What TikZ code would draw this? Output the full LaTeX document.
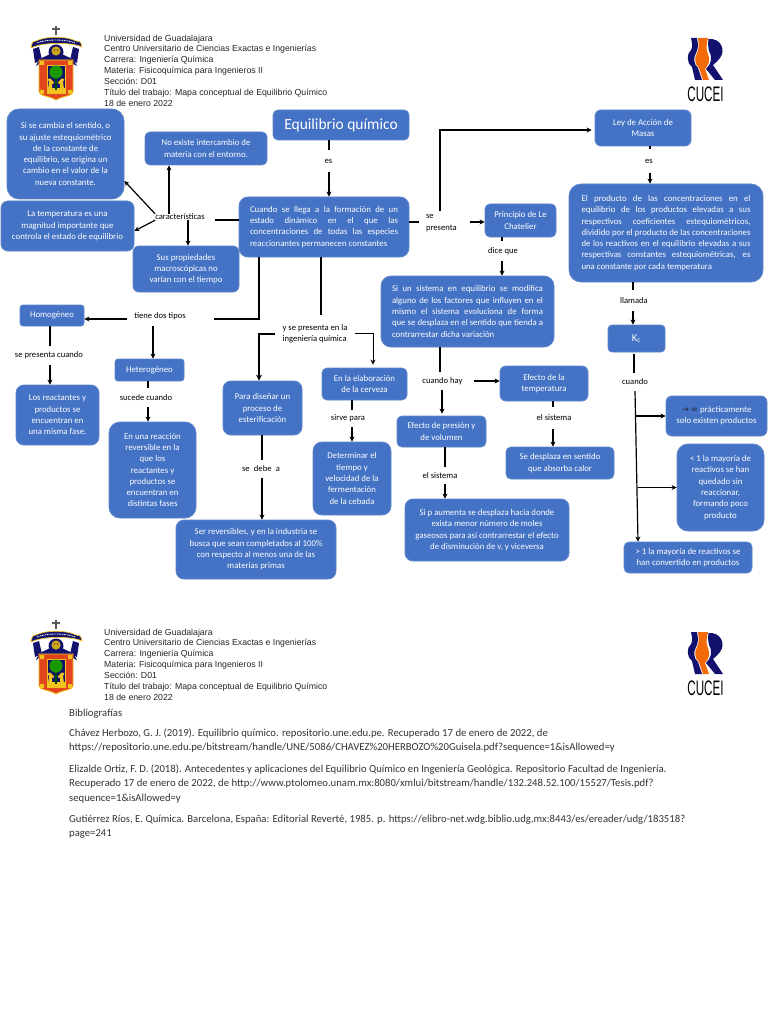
\documentclass[tikz,border=0pt]{standalone}
\usepackage{fontspec}
\usepackage{graphicx}
\setmainfont{Carlito}
\newfontfamily\arialf{Liberation Sans}
\newfontfamily\dejavuf{DejaVu Sans}
\usetikzlibrary{arrows.meta,calc}
\definecolor{boxblue}{HTML}{4472C4}
\definecolor{boxedge}{HTML}{5F86CC}
\definecolor{navyc}{HTML}{12126E}
\definecolor{orangec}{HTML}{F26A0A}
\definecolor{shieldred}{HTML}{E2451E}
\definecolor{goldc}{HTML}{F2C21E}
\tikzset{
 bluebox/.style={draw=boxedge,line width=.8pt,fill=boxblue,text=white,align=center,inner sep=0pt,
   font=\fontsize{8.8}{11.3}\selectfont},
 lab/.style={inner sep=0pt,align=center,text=black,font=\fontsize{8.6}{11.3}\selectfont},
 ln/.style={line width=1.2pt,black},
 arr/.style={line width=1.2pt,black,-{Stealth[length=5pt,width=5pt]}},
 headtxt/.style={anchor=north west,inner sep=0pt,align=left,text=black!85,
   font=\arialf\fontsize{8.75}{10.85}\selectfont},
 bibtxt/.style={anchor=north west,inner sep=0pt,align=left,text=black!80,
   font=\fontsize{10.7}{14.4}\selectfont},
}
\newcommand\bbox[6][6]{\node[bluebox,rounded corners=#1pt,minimum width={(#5-#3)*1pt},minimum height={(#6-#4)*1pt}] (#2) at ({(#3+#5)/2},{(#4+#6)/2})}
\newcommand\js[2]{\makebox[#1pt][s]{#2}}
\newcommand\jl[2]{\makebox[#1pt][l]{#2}}
\newcommand\vchain[4]{%
 \coordinate (tmpc) at (#4,0);
 \draw[ln] (#1.south -| tmpc) -- (#2.north -| tmpc);
 \draw[arr] (#2.south -| tmpc) -- (#3.north -| tmpc);}
\newcommand\ugcrest[1]{%
 \begin{scope}[shift={(0,#1)}]
  % cross
  \fill[black!65] (55,26) rectangle (57,35);
  \fill[black!65] (52,28) rectangle (60,29.6);
  % mantling
  \fill[navyc] (36,66) .. controls (40,56) and (44,58) .. (50,54) -- (62,54) .. controls (68,58) and (72,56) .. (77,66)
     -- (73,64) -- (39,64) -- cycle;
  \fill[navyc] (35,63) -- (33,49) -- (39,47) -- (42,60) -- cycle;
  \fill[navyc] (77,63) -- (79,49) -- (73,47) -- (70,60) -- cycle;
  % banner
  \draw[goldc,line width=.7pt,fill=navyc] (31,48) .. controls (32,41) and (34,41) .. (36,41)
     .. controls (46,36) and (66,36) .. (76,41) .. controls (79,41) and (81,41) .. (82,47)
     .. controls (72,42) and (42,42) .. (31,48) -- cycle;
  \draw[white,line width=.8pt,dash pattern=on 1pt off .7pt] (37,43) .. controls (46,39) and (66,39) .. (75,43);
  % head
  \fill[navyc] (56,52) circle (7.5);
  \fill[goldc!85!black] (56,51) circle (4.6);
  \fill[navyc] (54.5,50) circle (.7) (57.5,50) circle (.7);
  % shield
  \draw[goldc,line width=.8pt,fill=shieldred] (39,60) -- (73,60) -- (73,92) .. controls (73,96) and (62,96) .. (56,100)
     .. controls (50,96) and (39,96) .. (39,92) -- cycle;
  \fill[goldc] (40,61) rectangle (44,65) (68,61) rectangle (72,65) (40,90) rectangle (44,94) (68,90) rectangle (72,94);
  \draw[goldc,line width=.5pt,fill=navyc] (47,65) rectangle (65,93);
  % tree
  \fill[goldc] (47.5,88) rectangle (64.5,92.6);
  \fill[black!70!green] (55.2,74) rectangle (56.8,90);
  \fill[green!55!black!90!yellow] (56,72) circle (6.6);
  % lions
  \fill[goldc] (48,89) -- (49,82) -- (47.5,79) -- (50.5,78.5) -- (54.5,83) -- (52,84) -- (52,89) -- cycle;
  \fill[goldc] (64,89) -- (63,82) -- (64.5,79) -- (61.5,78.5) -- (57.5,83) -- (60,84) -- (60,89) -- cycle;
 \end{scope}}
\newcommand\cuceilogo[2]{%
 \begin{scope}[shift={(0,#1)}]
  \fill[orangec] (698,38) -- (708,38) .. controls (706,46) and (706,50) .. (708,54) .. controls (711,60) and (708,66) .. (705,69)
     -- (709,80) -- (703,80) -- (699,68) .. controls (695,65) and (694,58) .. (697,53) .. controls (699,50) and (699,44) .. (698,38) -- cycle;
  \fill[navyc] (691,38) -- (697,38) .. controls (698.5,45) and (698,50) .. (696,53) .. controls (693,58) and (694,65) .. (698,68)
     -- (702,80) -- (695,80) -- (692,67) .. controls (687,64) and (686,54) .. (691,50) .. controls (693,47) and (692,43) .. (691,38) -- cycle;
  \fill[navyc] (708.5,39) .. controls (721,38) and (726,50) .. (720,58) .. controls (718,61) and (715,63) .. (713,65)
     -- (723,80) -- (715,80) -- (706,69) .. controls (711,64) and (713,58) .. (709,51) .. controls (708,47) and (708,43) .. (708.5,39) -- cycle;
  \node[inner sep=0pt,text=black] (#2) at (705.5,94.5) {\scalebox{.83}[1.5]{\arialf\fontsize{14}{14}\selectfont CUCEI}};
 \end{scope}}
\newcommand\headlines{Universidad de Guadalajara\\Centro Universitario de Ciencias Exactas e Ingenierías\\Carrera: Ingeniería Química\\Materia: Fisicoquímica para Ingenieros II\\Sección: D01\\Título del trabajo: Mapa conceptual de Equilibrio Químico\\18 de enero 2022}
\begin{document}
\begin{tikzpicture}[x=1pt,y=-1pt]
\useasboundingbox (0,0) rectangle (768,1024);
\fill[white] (0,0) rectangle (768,1024);
% headers
\ugcrest{0}
\ugcrest{594}
\cuceilogo{0}{cuceiA}
\cuceilogo{594}{cuceiB}
\node[headtxt] (headA) at (104,34.5) {\headlines};
\node[headtxt] (headB) at (104,628.5) {\headlines};
% boxes
\bbox[12]{A}{7}{109}{124}{199}{Si se cambia el sentido, o\\su ajuste estequiométrico\\de la constante de\\equilibrio, se origina un\\cambio en el valor de la\\nueva constante.};
\bbox[7]{B}{1}{201}{134}{251}{La temperatura es una\\magnitud importante que\\controla el estado de equilibrio};
\bbox[5]{C}{145}{132}{267}{165}{No existe intercambio de\\materia con el entorno.};
\bbox[6]{D}{133}{246}{239}{292}{Sus propiedades\\macroscópicas no\\varían con el tiempo};
\node[bluebox,rounded corners=5pt,minimum width=136pt,minimum height=30pt,font=\fontsize{15.5}{17}\selectfont] (E) at (341,125) {Equilibrio químico};
\bbox[9]{F}{239}{197}{409}{257}{\js{148}{Cuando se llega a la formación de un}\\\js{148}{estado dinámico en el que las}\\\js{148}{concentraciones de todas las especies}\\\jl{148}{reaccionantes permanecen constantes}};
\bbox[6]{Ley}{595}{110}{691}{146}{Ley de Acción de\\Masas};
\bbox[12]{Prod}{569}{184}{763}{282}{\js{169}{El producto de las concentraciones en el}\\\js{169}{equilibrio de los productos elevadas a sus}\\\js{169}{respectivos coeficientes estequiométricos,}\\\js{169}{dividido por el producto de las concentraciones}\\\js{169}{de los reactivos en el equilibrio elevadas a sus}\\\js{169}{respectivas constantes estequiométricas, es}\\\jl{169}{una constante por cada temperatura}};
\bbox[5]{Ch}{485}{204}{556}{237}{Principio de Le\\Chatelier};
\bbox[10]{Sys}{381}{276}{554}{347}{\js{151}{Si un sistema en equilibrio se modifica}\\\js{151}{alguno de los factores que influyen en el}\\\js{151}{mismo el sistema evoluciona de forma}\\\js{151}{que se desplaza en el sentido que tienda a}\\\jl{151}{contrarrestar dicha variación}};
\bbox[3]{Hom}{20}{305}{84}{326}{Homogéneo};
\bbox[3]{Het}{115}{359}{184}{381}{Heterogéneo};
\bbox[8]{Los}{16}{385}{99}{445}{Los reactantes y\\productos se\\encuentran en\\una misma fase.};
\bbox[11]{Reac}{109}{422}{196}{518}{En una reacción\\reversible en la\\que los\\reactantes y\\productos se\\encuentran en\\distintas fases};
\bbox[8]{Para}{223}{381}{302}{435}{Para diseñar un\\proceso de\\esterificación};
\bbox[5]{Ela}{322}{368}{407}{400}{En la elaboración\\de la cerveza};
\bbox[9]{Det}{313}{442}{391}{515}{Determinar el\\tiempo y\\velocidad de la\\fermentación\\de la cebada};
\bbox[8]{Ser}{176}{520}{336}{579}{Ser reversibles, y en la industria se\\busca que sean completados al 100\%\\con respecto al menos una de las\\materias primas};
\bbox[5]{Pres}{397}{416}{486}{447}{Efecto de presión y\\de volumen};
\bbox[6]{Temp}{500}{366}{588}{401}{Efecto de la\\temperatura};
\bbox[5]{Desp}{506}{447}{614}{479}{Se desplaza en sentido\\que absorba calor};
\bbox[8]{SiP}{405}{499}{569}{561}{Si p aumenta se desplaza hacia donde\\exista menor número de moles\\gaseosos para así contrarrestar el efecto\\de disminución de v, y viceversa};
\bbox[4]{Kc}{608}{325}{665}{352}{\fontsize{10.5}{11}\selectfont K\textsubscript{c}};
\bbox[6]{Inf}{666}{396}{767}{436}{{\dejavuf\fontsize{9}{9}\selectfont\textcolor{black!85}{→\,∞}} prácticamente\\solo existen productos};
\bbox[11]{Lt}{677}{444}{764}{531}{< 1 la mayoría de\\reactivos se han\\quedado sin\\reaccionar,\\formando poco\\producto};
\bbox[5]{Gt}{624}{542}{752}{573}{> 1 la mayoría de reactivos se\\han convertido en productos};
% labels
\node[lab,minimum height=22pt] (es1) at (328.5,161) {es};
\node[lab] (car) at (180,217) {características};
\node[lab,minimum width=66pt,minimum height=20pt] (tie) at (160,316) {tiene dos tipos};
\node[lab,minimum height=19pt] (spc) at (49,355.5) {se presenta cuando};
\node[lab,minimum height=19pt] (suc) at (146,397.5) {sucede cuando};
\node[lab,minimum width=80pt,minimum height=37pt,align=left] (yse) at (315,333.5) {y se presenta en la\\ingeniería química};
\node[lab,minimum height=18pt] (deb) at (261,469) {se\enspace debe\enspace a};
\node[lab,minimum height=17pt] (sir) at (348,418.5) {sirve para};
\node[lab,align=left,text width=32pt] (sep) at (442,223) {se\\presenta};
\node[lab,minimum height=20pt] (dic) at (503,251) {dice que};
\node[lab,minimum height=18pt] (hay) at (442.5,381) {cuando hay};
\node[lab,minimum height=22pt] (sis1) at (554,418) {el sistema};
\node[lab,minimum height=17pt] (sis2) at (440,475.5) {el sistema};
\node[lab,minimum height=23pt] (es2) at (649,161) {es};
\node[lab,minimum height=21pt] (lla) at (634,300.5) {llamada};
\node[lab,minimum height=18pt] (cua) at (635,382) {cuando};
% bibliography
\node[bibtxt] (bib0) at (69,708.5) {Bibliografías};
\node[bibtxt] (bib1) at (69,728.5) {Chávez Herbozo, G. J. (2019). Equilibrio químico. repositorio.une.edu.pe. Recuperado 17 de enero de 2022, de\\https://repositorio.une.edu.pe/bitstream/handle/UNE/5086/CHAVEZ\%20HERBOZO\%20Guisela.pdf?sequence=1\&isAllowed=y};
\node[bibtxt] (bib2) at (69,764.5) {Elizalde Ortiz, F. D. (2018). Antecedentes y aplicaciones del Equilibrio Químico en Ingeniería Geológica. Repositorio Facultad de Ingeniería.\\Recuperado 17 de enero de 2022, de http://www.ptolomeo.unam.mx:8080/xmlui/bitstream/handle/132.248.52.100/15527/Tesis.pdf?\\sequence=1\&isAllowed=y};
\node[bibtxt] (bib3) at (69,814.5) {Gutiérrez Ríos, E. Química. Barcelona, España: Editorial Reverté, 1985. p. https://elibro-net.wdg.biblio.udg.mx:8443/es/ereader/udg/183518?\\page=241};
% connectors
\vchain{E}{es1}{F}{329}
\draw[ln] (F.west |- 0,220) -- ($(car.east |- 0,220)+(10,0)$);
\draw[arr] (car.north west) -- ($(A.east)+(0,27)$);
\coordinate (cC) at (169,0);
\draw[arr] (car.north -| cC) -- (C.south -| cC);
\draw[arr] (car.south west) -- ($(B.east)+(0,5)$);
\coordinate (cD) at (188,0);
\draw[arr] (car.south -| cD) -- (D.north -| cD);
\coordinate (cT) at (259,0);
\coordinate (yT) at (0,319);
\draw[ln] (F.south -| cT) -- (cT |- yT) -- ($(tie.east |- yT)+(21,0)$);
\draw[arr] (tie.west |- yT) -- (Hom.east |- yT);
\coordinate (cH) at (153,0);
\draw[arr] (tie.south -| cH) -- ($(Het.north -| cH)$);
\vchain{Hom}{spc}{Los}{50}
\vchain{Het}{suc}{Reac}{148}
\coordinate (cY) at (321,0);
\draw[ln] (F.south -| cY) -- (yse.north -| cY);
\coordinate (cP) at (259,0);
\draw[-{Stealth[length=6pt,width=6pt]},line width=2pt,black] (yse.west) -| (Para.north -| cP);
\coordinate (cE) at (373,0);
\draw[line width=.9pt,black,-{Stealth[length=5pt,width=5pt]},shorten >=3pt] (yse.east) -| (Ela.north -| cE);
\vchain{Para}{deb}{Ser}{262}
\vchain{Ela}{sir}{Det}{352}
\coordinate (yR) at (0,222);
\draw[ln] (F.east |- yR) -- ($(sep.west |- yR)+(-7,0)$);
\draw[arr] ($(sep.east |- yR)+(12,0)$) -- (Ch.west |- yR);
\coordinate (cL) at (440,0);
\coordinate (yL) at (0,130);
\draw[arr,shorten >=3pt] ($(sep.north -| cL)+(0,-3)$) -- (cL |- yL) -- (Ley.west |- yL);
\vchain{Ch}{dic}{Sys}{502}
\coordinate (cS) at (440,0);
\draw[line width=1.6pt,black] (Sys.south -| cS) -- (hay.north -| cS);
\coordinate (cP2) at (442,0);
\draw[arr,shorten >=2pt] (hay.south -| cP2) -- (Pres.north -| cP2);
\draw[arr] ($(hay.east)+(11,0)$) -- (Temp.west |- hay.east);
\vchain{Temp}{sis1}{Desp}{553}
\vchain{Pres}{sis2}{SiP}{445}
\vchain{Ley}{es2}{Prod}{650}
\vchain{Prod}{lla}{Kc}{633}
\coordinate (cK) at (634,0);
\draw[ln] ($(Kc.south -| cK)+(0,2)$) -- (cua.north -| cK);
\coordinate (cB) at (635,0);
\coordinate (cG) at (638,0);
\draw[arr] (cua.south -| cB) -- (Gt.north -| cG);
\coordinate (cI) at (636,0);
\draw[arr] (Inf.west -| cI) -- (Inf.west);
\coordinate (cJ) at (638,0);
\draw[arr] (Lt.west -| cJ) -- (Lt.west);
\end{tikzpicture}
\end{document}
